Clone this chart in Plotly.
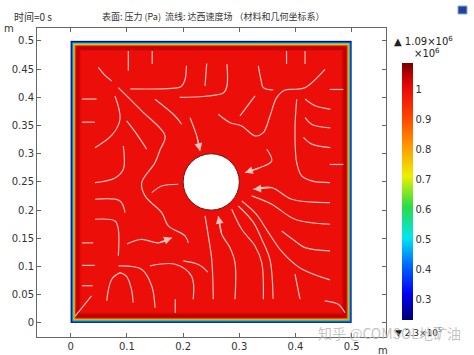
import numpy as np
import plotly.graph_objects as go

# ---------------- data ----------------
# pressure profile vs distance from the outer boundary (m -> 1e6 Pa)
EDGE_DIST_M = [0.0, 0.0015, 0.003, 0.0047, 0.0063, 0.008, 0.010, 0.014, 0.018, 0.5]
EDGE_PRESSURE = [0.23, 0.28, 0.45, 0.62, 0.78, 0.92, 1.05, 1.05, 1.0, 1.0]
P_MIN, P_MAX = 0.23, 1.09  # x1e6 Pa

DOMAIN_SIZE = 0.5
HOLE_CENTER = (0.25, 0.25)
HOLE_RADIUS = 0.05

X_TICKS = [0, 0.1, 0.2, 0.3, 0.4, 0.5]
X_TICK_TEXT = ["0", "0.1", "0.2", "0.3", "0.4", "0.5"]
Y_TICKS = [0, 0.05, 0.1, 0.15, 0.2, 0.25, 0.3, 0.35, 0.4, 0.45, 0.5]
Y_TICK_TEXT = ["0", "0.05", "0.1", "0.15", "0.2", "0.25", "0.3", "0.35", "0.4", "0.45", "0.5"]
CB_TICKS = [0.3, 0.4, 0.5, 0.6, 0.7, 0.8, 0.9, 1.0]
CB_TICK_TEXT = ["0.3", "0.4", "0.5", "0.6", "0.7", "0.8", "0.9", "1"]

# streamlines (Darcy velocity), each a list of (x, y) points in m
STREAMLINES = [
    [(0.1025, 0.482), (0.1025, 0.447)],
    [(0.145, 0.482), (0.145, 0.459)],
    [(0.049, 0.453), (0.060, 0.440), (0.073, 0.429)],
    [(0.206, 0.456), (0.203, 0.430), (0.196, 0.419), (0.180, 0.416), (0.106, 0.415)],
    [(0.242, 0.460), (0.239, 0.420)],
    [(0.278, 0.459), (0.278, 0.420), (0.272, 0.408), (0.239, 0.402), (0.194, 0.400)],
    [(0.0847, 0.4172), (0.1263, 0.3759), (0.1678, 0.3316), (0.1589, 0.3067), (0.150, 0.2842),
     (0.1263, 0.2488), (0.1322, 0.2252), (0.1619, 0.1956), (0.1737, 0.1720), (0.2034, 0.1543),
     (0.2093, 0.1421)],
    [(0.0788, 0.4025), (0.0877, 0.3612), (0.0735, 0.3333), (0.0432, 0.3108)],
    [(0.020, 0.397), (0.046, 0.397)],
    [(0.020, 0.356), (0.043, 0.356)],
    [(0.0996, 0.3582), (0.118, 0.334), (0.1352, 0.3080)],
    [(0.150, 0.3966), (0.1856, 0.367), (0.1975, 0.3523)],
    [(0.2123, 0.364), (0.2242, 0.3316), (0.2301, 0.305)],
    [(0.0936, 0.3138), (0.0936, 0.2725), (0.0788, 0.2571), (0.0432, 0.2488)],
    [(0.384, 0.482), (0.384, 0.459)],
    [(0.417, 0.482), (0.417, 0.459)],
    [(0.3338, 0.4557), (0.3386, 0.4309), (0.3427, 0.4172), (0.3605, 0.4131)],
    [(0.4525, 0.4498), (0.4169, 0.4172), (0.3991, 0.4144), (0.3813, 0.4131), (0.3665, 0.3995),
     (0.3546, 0.367), (0.3427, 0.3374), (0.3279, 0.3316), (0.3043, 0.3493), (0.2835, 0.3551),
     (0.2626, 0.370)],
    [(0.3279, 0.4025), (0.3012, 0.367)],
    [(0.4021, 0.3966), (0.3991, 0.3434), (0.4021, 0.2842), (0.411, 0.2606), (0.4288, 0.2518),
     (0.4614, 0.2488)],
    [(0.417, 0.397), (0.435, 0.385), (0.462, 0.379)],
    [(0.417, 0.364), (0.429, 0.352), (0.462, 0.346)],
    [(0.414, 0.329), (0.429, 0.317), (0.462, 0.311)],
    [(0.461, 0.414), (0.485, 0.414)],
    [(0.461, 0.281), (0.485, 0.281)],
    [(0.3488, 0.308), (0.3577, 0.2872), (0.3368, 0.2754), (0.3101, 0.2665)],
    [(0.0432, 0.2193), (0.0877, 0.2163), (0.0966, 0.1956)],
    [(0.0432, 0.1838), (0.0788, 0.1808), (0.0847, 0.1661), (0.0847, 0.119)],
    [(0.020, 0.142), (0.040, 0.142)],
    [(0.020, 0.102), (0.043, 0.102)],
    [(0.020, 0.066), (0.039, 0.066)],
    [(0.008, 0.012), (0.037, 0.048)],
    [(0.100, 0.140), (0.126, 0.148), (0.156, 0.142), (0.180, 0.151)],
    [(0.1441, 0.231), (0.1619, 0.2429), (0.1915, 0.2459)],
    [(0.085, 0.101), (0.126, 0.095), (0.144, 0.066), (0.150, 0.027)],
    [(0.0877, 0.0892), (0.073, 0.0775), (0.064, 0.039)],
    [(0.0877, 0.0892), (0.099, 0.083), (0.108, 0.060), (0.111, 0.036)],
    [(0.141, 0.101), (0.186, 0.104), (0.215, 0.083), (0.218, 0.042)],
    [(0.186, 0.042), (0.186, 0.018)],
    [(0.2004, 0.1099), (0.228, 0.103), (0.244, 0.090)],
    [(0.4614, 0.2133), (0.3932, 0.2193), (0.3577, 0.2399), (0.3249, 0.2371)],
    [(0.322, 0.2252), (0.3577, 0.2104), (0.3991, 0.1838), (0.4614, 0.175)],
    [(0.3043, 0.2163), (0.3297, 0.1933), (0.3511, 0.1613), (0.3761, 0.1259), (0.4081, 0.0975),
     (0.4614, 0.0762)],
    [(0.3754, 0.1631), (0.3991, 0.1454), (0.4169, 0.1335), (0.4614, 0.1277)],
    [(0.2982, 0.2074), (0.3244, 0.1791), (0.3404, 0.1472), (0.3546, 0.1117), (0.360, 0.0426)],
    [(0.2865, 0.2016), (0.3043, 0.1661), (0.3279, 0.1365), (0.3399, 0.1069), (0.3427, 0.042)],
    [(0.2923, 0.042), (0.2923, 0.1069), (0.2834, 0.1335), (0.2687, 0.1573), (0.2626, 0.1897)],
    [(0.239, 0.1897), (0.2448, 0.1543), (0.2509, 0.1129), (0.2537, 0.042)],
    [(0.3991, 0.0863), (0.408, 0.042)],
    [(0.452, 0.039), (0.476, 0.033), (0.488, 0.018)],
]
# indices of streamlines that carry an arrow head at their last point
ARROW_LINES = [12, 25, 32, 40, 46]

# ---------------- figure ----------------
W, H = 474, 355
ML, MR, MT, MB = 37, 88, 28, 18
PW, PH = W - ML - MR, H - MT - MB


def px(xp):
    return (xp - ML) / PW


def py(yp):
    return (H - MB - yp) / PH


fine = np.arange(0.0, 0.02, 0.0004)
mid = np.arange(0.02, DOMAIN_SIZE - 0.02 + 1e-9, 0.004)
coords = np.concatenate([fine, mid, DOMAIN_SIZE - fine[::-1]])
XX, YY = np.meshgrid(coords, coords)
dist = np.minimum.reduce([XX, DOMAIN_SIZE - XX, YY, DOMAIN_SIZE - YY])
Z = np.interp(dist, EDGE_DIST_M, EDGE_PRESSURE)

colorscale = [
    [0.0, "rgb(0,0,115)"],
    [0.10, "rgb(0,0,240)"],
    [0.22, "rgb(0,110,255)"],
    [0.32, "rgb(0,230,240)"],
    [0.44, "rgb(40,220,70)"],
    [0.56, "rgb(235,240,0)"],
    [0.68, "rgb(255,150,0)"],
    [0.80, "rgb(252,60,0)"],
    [0.895, "rgb(236,14,8)"],
    [0.95, "rgb(195,0,0)"],
    [1.0, "rgb(115,0,0)"],
]

fig = go.Figure()
fig.add_trace(go.Heatmap(
    x=coords, y=coords, z=Z, zmin=P_MIN, zmax=P_MAX, colorscale=colorscale,
    hoverinfo="skip",
    colorbar=dict(
        x=px(402), xanchor="left", y=py(191.5), yanchor="middle",
        len=257 / PH, lenmode="fraction", thickness=11, thicknessmode="pixels",
        outlinewidth=0, xpad=0, ypad=0, ticks="",
        tickvals=CB_TICKS, ticktext=CB_TICK_TEXT,
        tickfont=dict(family="DejaVu Sans", size=10, color="#333"),
    ),
))

sx, sy = [], []
for line in STREAMLINES:
    for (a, b) in line:
        sx.append(a)
        sy.append(b)
    sx.append(None)
    sy.append(None)
STREAM_COLOR = "rgb(247,195,186)"
fig.add_trace(go.Scatter(x=sx, y=sy, mode="lines", line=dict(color=STREAM_COLOR, width=1.2, shape="spline"),
                         hoverinfo="skip", showlegend=False))

annotations = []
for i in ARROW_LINES:
    line = STREAMLINES[i]
    annotations.append(dict(
        x=line[-1][0], y=line[-1][1], ax=line[-2][0], ay=line[-2][1],
        xref="x", yref="y", axref="x", ayref="y", text="", showarrow=True,
        arrowhead=2, arrowsize=1.3, arrowwidth=1.2, arrowcolor=STREAM_COLOR, standoff=0,
    ))

TXT = "#333"
CJK = "Noto Sans CJK SC, DejaVu Sans"
annotations += [
    dict(x=px(12), y=py(16), xref="paper", yref="paper", xanchor="left", yanchor="middle",
         text="时间=0 s", showarrow=False, font=dict(family=CJK, size=10, color=TXT)),
    dict(x=px(213), y=py(16), xref="paper", yref="paper", xanchor="center", yanchor="middle",
         text="表面: 压力 (Pa)  流线: 达西速度场 （材料和几何坐标系）", showarrow=False,
         font=dict(family=CJK, size=9, color=TXT)),
    dict(x=px(2), y=py(28), xref="paper", yref="paper", xanchor="left", yanchor="middle",
         text="m", showarrow=False, font=dict(family="DejaVu Sans", size=10, color=TXT)),
    dict(x=px(383), y=py(350), xref="paper", yref="paper", xanchor="center", yanchor="middle",
         text="m", showarrow=False, font=dict(family="DejaVu Sans", size=10, color=TXT)),
    dict(x=px(392), y=py(41), xref="paper", yref="paper", xanchor="left", yanchor="middle",
         text="▲ 1.09×10<sup>6</sup>", showarrow=False, font=dict(family="DejaVu Sans", size=10, color="#222")),
    dict(x=px(412), y=py(53), xref="paper", yref="paper", xanchor="left", yanchor="middle",
         text="×10<sup>6</sup>", showarrow=False, font=dict(family="DejaVu Sans", size=10, color="#222")),
    dict(x=px(393), y=py(332), xref="paper", yref="paper", xanchor="left", yanchor="middle",
         text="▼ 2.3×10<sup>5</sup>", showarrow=False, font=dict(family="DejaVu Sans", size=9, color="#222")),
    dict(x=px(389), y=py(333), xref="paper", yref="paper", xanchor="center", yanchor="middle",
         text="知乎 @COMSOL地矿油", showarrow=False,
         font=dict(family=CJK, size=14, color="rgba(185,185,185,0.85)")),
]

shapes = [
    dict(type="circle", xref="x", yref="y",
         x0=HOLE_CENTER[0] - HOLE_RADIUS, x1=HOLE_CENTER[0] + HOLE_RADIUS,
         y0=HOLE_CENTER[1] - HOLE_RADIUS, y1=HOLE_CENTER[1] + HOLE_RADIUS,
         fillcolor="white", line=dict(color="rgb(110,20,20)", width=1)),
    dict(type="rect", xref="paper", yref="paper", x0=px(458), x1=px(467), y0=py(14), y1=py(6),
         fillcolor="rgb(30,70,150)", line=dict(color="rgb(140,170,220)", width=1)),
]

axis_common = dict(showgrid=False, zeroline=False, showline=True, linecolor="#666", linewidth=1,
                   mirror="ticks", ticks="inside", ticklen=4, tickcolor="#666", automargin=False,
                   tickfont=dict(family="DejaVu Sans", size=10, color=TXT))
fig.update_layout(
    width=W, height=H, autosize=False,
    margin=dict(l=ML, r=MR, t=MT, b=MB, pad=0, autoexpand=False),
    paper_bgcolor="white", plot_bgcolor="white",
    xaxis=dict(range=[-0.06, 0.561], tickvals=X_TICKS, ticktext=X_TICK_TEXT, **axis_common),
    yaxis=dict(range=[-0.025, 0.523], tickvals=Y_TICKS, ticktext=Y_TICK_TEXT, **axis_common),
    annotations=annotations, shapes=shapes, showlegend=False,
)

fig.write_html("out.html", config={"displayModeBar": False},
               post_script="document.body.style.margin='0px';document.body.style.overflow='hidden';")
